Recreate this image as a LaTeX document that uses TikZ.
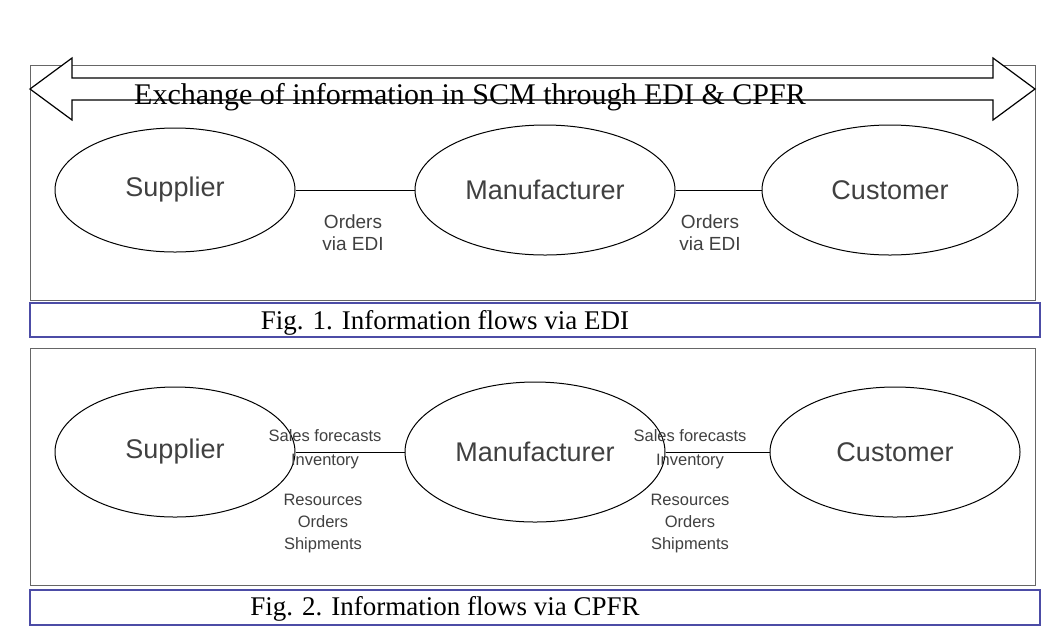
\documentclass[tikz,border=0pt]{standalone}
\usepackage{fontspec}
\setmainfont{Liberation Serif}
\newfontfamily\arialf{Liberation Sans}
\usetikzlibrary{shapes.geometric}
\tikzset{
  ell/.style={draw,ellipse,line width=1pt,minimum width=#1,inner sep=0pt,font=\arialf\fontsize{27}{30}\selectfont,text=black!75},
  lbl/.style={font=\arialf\fontsize{19}{22}\selectfont,text=black!75,align=center},
  slbl/.style={font=\arialf\fontsize{16.5}{19}\selectfont,text=black!75,align=center},
  panel/.style={draw=black!60,line width=0.8pt},
  capbox/.style={draw=blue!50!black!70,line width=1.5pt},
  captxt/.style={font=\fontsize{27}{30}\selectfont}
}
\begin{document}
\begin{tikzpicture}[x=1pt,y=-1pt]
\useasboundingbox (0,0) rectangle (1064,633);
% panel 1
\draw[panel] (30,65) rectangle (1035,300);
\draw[line width=1.2pt,fill=white] (30,89) -- (72,58) -- (72,78) -- (993,78) -- (993,58) -- (1035,89) -- (993,120) -- (993,100) -- (72,100) -- (72,120) -- cycle;
\node[font=\fontsize{30}{33}\selectfont] (title) at (470,97) {Exchange of information in SCM through EDI \& CPFR};
\node[ell=240pt,minimum height=124pt] (s1) at (175,190) {Supplier};
\node[ell=260pt,minimum height=130pt] (m1) at (545,190) {Manufacturer};
\node[ell=256pt,minimum height=130pt] (c1) at (890,190) {Customer};
\draw[thick] (s1.east) -- (m1.west);
\draw[thick] (m1.east) -- (c1.west);
\node[lbl] (o1) at (353,233) {Orders\\via EDI};
\node[lbl] (o2) at (710,233) {Orders\\via EDI};
\draw[capbox] (30,303) rectangle (1040,337);
\node[captxt] (f1) at (445,323) {Fig. 1. Information flows via EDI};
% panel 2
\draw[panel] (30,348) rectangle (1035,585);
\node[ell=240pt,minimum height=130pt] (s2) at (175,452) {Supplier};
\node[ell=260pt,minimum height=140pt] (m2) at (535,452) {Manufacturer};
\node[ell=250pt,minimum height=130pt] (c2) at (895,452) {Customer};
\draw[thick] (s2.east) -- (m2.west);
\draw[thick] (m2.east) -- (c2.west);
\node[slbl] (a1) at (325,436) {Sales forecasts};
\node[slbl] (b1) at (325,462) {Inventory};
\node[slbl] (d1) at (323,524) {Resources\\[3pt]Orders\\[3pt]Shipments};
\node[slbl] (a2) at (690,436) {Sales forecasts};
\node[slbl] (b2) at (690,462) {Inventory};
\node[slbl] (d2) at (690,524) {Resources\\[3pt]Orders\\[3pt]Shipments};
\draw[capbox] (30,590) rectangle (1040,625);
\node[captxt] (f2) at (445,609) {Fig. 2. Information flows via CPFR};
\end{tikzpicture}
\end{document}
